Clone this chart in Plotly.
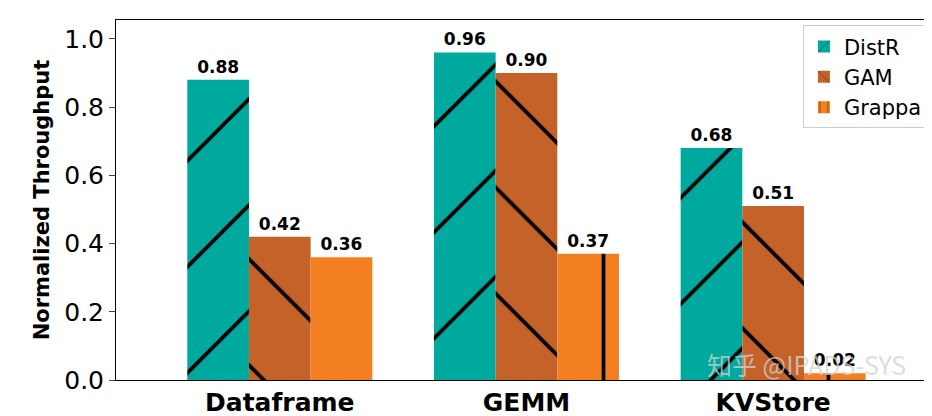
import plotly.graph_objects as go

categories = ["Dataframe", "GEMM", "KVStore"]
series = ["DistR", "GAM", "Grappa"]
values = {
    "DistR": [0.88, 0.96, 0.68],
    "GAM": [0.42, 0.90, 0.51],
    "Grappa": [0.36, 0.37, 0.02],
}
colors = {"DistR": "#00A99D", "GAM": "#C4622A", "Grappa": "#F47F20"}
shapes = {"DistR": "/", "GAM": "\\", "Grappa": "|"}

fig = go.Figure()
for s in series:
    fig.add_trace(go.Bar(
        name=s, x=categories, y=values[s],
        marker=dict(color=colors[s], line=dict(width=0),
                    pattern=dict(shape=shapes[s], fgcolor="black", fgopacity=1, bgcolor=colors[s],
                                 size=75, solidity=0.05, fillmode="overlay")),
        text=[f"{v:.2f}" for v in values[s]], textposition="outside",
        textfont=dict(size=17, color="black", family="DejaVu Sans", weight="bold"),
        cliponaxis=False,
    ))

fig.update_layout(
    width=932, height=416, barmode="group", bargap=0.25, bargroupgap=0,
    plot_bgcolor="white", paper_bgcolor="white",
    margin=dict(l=108, r=7, t=12, b=38),
    font=dict(family="DejaVu Sans", color="black"),
    xaxis=dict(range=[-0.664, 2.644], showline=True, linecolor="black", mirror=True,
               ticks="", tickfont=dict(size=25, weight="bold")),
    yaxis=dict(range=[0, 1.055], dtick=0.2, tickformat=".1f", showline=True, linecolor="black",
               mirror=True, ticks="outside", ticklen=6, showgrid=False,
               tickfont=dict(size=25),
               title=dict(text="Normalized Throughput", font=dict(size=21, weight="bold"),
                          standoff=8)),
    legend=dict(x=0.995, y=0.985, xanchor="right", yanchor="top", bordercolor="#cccccc",
                borderwidth=1, font=dict(size=21), bgcolor="rgba(255,255,255,0.9)"),
    annotations=[dict(text="知乎 @IPADS-SYS", x=0.97, y=-0.01, xref="paper", yref="paper",
                      xanchor="right", yanchor="bottom", showarrow=False,
                      font=dict(size=25, color="rgba(210,210,210,0.75)",
                                family="Noto Sans CJK SC"))],
)
fig.write_html("out.html")
